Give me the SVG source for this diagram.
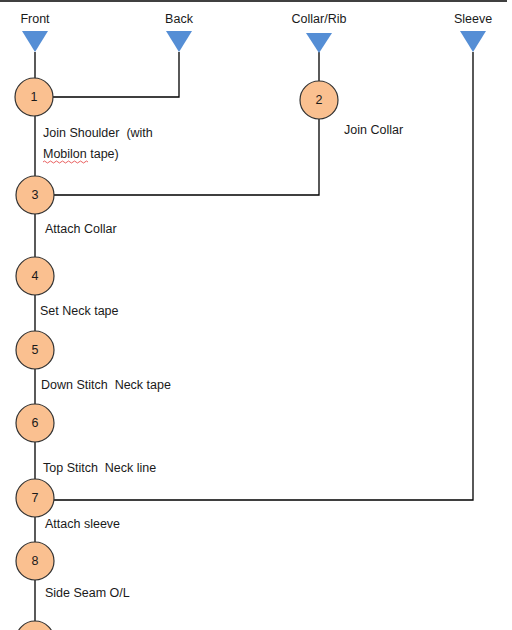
<svg xmlns="http://www.w3.org/2000/svg" width="512" height="630" viewBox="0 0 512 630">
<style>
.t{font-family:"Liberation Sans",Arial,sans-serif;font-size:12.5px;fill:#1a1a1a;white-space:pre}
.n{font-family:"Liberation Sans",Arial,sans-serif;font-size:12.5px;fill:#1a1a1a;text-anchor:middle}
.c{fill:#FAC090;stroke:#333;stroke-width:1.2}
.tri{fill:#558ED5}
.ln{fill:none;stroke:#000;stroke-width:1.3}
</style>
<rect width="512" height="630" fill="#fff"/>
<line x1="0" y1="1" x2="507" y2="1" stroke="#000" stroke-width="1.5"/>
<g id="connectors">
<path class="ln" d="M35 52V630"/>
<path class="ln" d="M53 97H179V52"/>
<path class="ln" d="M319 52V81"/>
<path class="ln" d="M54 195H319V119"/>
<path class="ln" d="M54 500H473V52"/>
</g>
<g id="src-front"><polygon class="tri" points="22,31 48,31 35,52"/><text class="n" x="35" y="23">Front</text></g>
<g id="src-back"><polygon class="tri" points="166,31 192,31 179,52"/><text class="n" x="179" y="23">Back</text></g>
<g id="src-collar"><polygon class="tri" points="306,33 332,33 319,53"/><text class="n" x="319" y="23">Collar/Rib</text></g>
<g id="src-sleeve"><polygon class="tri" points="460,31 486,31 473,52"/><text class="n" x="473" y="23">Sleeve</text></g>
<g id="op1"><circle class="c" cx="34" cy="97" r="19"/><text class="n" x="34" y="101">1</text>
<text class="t" x="43" y="137" xml:space="preserve">Join Shoulder  (with</text><text class="t" x="43" y="158">Mobilon tape)</text>
<path d="M43 162q1.5 -2 3 0t3 0t3 0t3 0t3 0t3 0t3 0t3 0t3 0t3 0t3 0t3 0t3 0t3 0t3 0" fill="none" stroke="#e02020" stroke-width="0.7"/></g>
<g id="op2"><circle class="c" cx="319" cy="100" r="19"/><text class="n" x="319" y="104">2</text><text class="t" x="344" y="134">Join Collar</text></g>
<g id="op3"><circle class="c" cx="35" cy="195" r="19"/><text class="n" x="35" y="199">3</text><text class="t" x="45" y="233">Attach Collar</text></g>
<g id="op4"><circle class="c" cx="35" cy="276" r="19"/><text class="n" x="35" y="280">4</text><text class="t" x="40" y="315">Set Neck tape</text></g>
<g id="op5"><circle class="c" cx="35" cy="350" r="19"/><text class="n" x="35" y="354">5</text><text class="t" x="41" y="389" xml:space="preserve">Down Stitch  Neck tape</text></g>
<g id="op6"><circle class="c" cx="35" cy="423" r="19"/><text class="n" x="35" y="427">6</text><text class="t" x="43" y="472" xml:space="preserve">Top Stitch  Neck line</text></g>
<g id="op7"><circle class="c" cx="35" cy="498" r="19"/><text class="n" x="35" y="502">7</text><text class="t" x="45" y="528">Attach sleeve</text></g>
<g id="op8"><circle class="c" cx="35" cy="561" r="19"/><text class="n" x="35" y="565">8</text><text class="t" x="45" y="597">Side Seam O/L</text></g>
<g id="op9"><circle class="c" cx="35" cy="640" r="19"/></g>
</svg>
